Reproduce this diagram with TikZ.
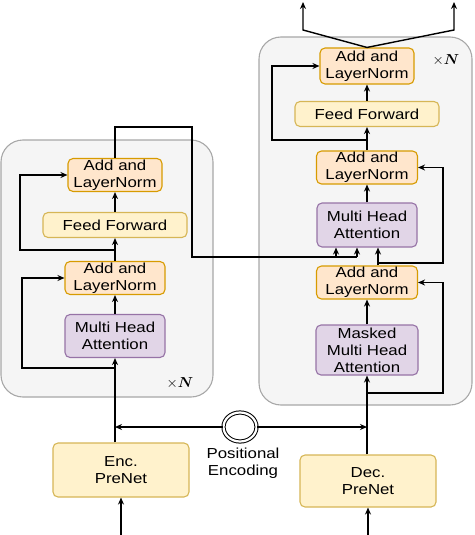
\documentclass[tikz,border=0pt]{standalone}
\usepackage{fontspec}
\usepackage{bm}
\setmainfont{Liberation Sans}[FakeStretch=1.16]
\usetikzlibrary{arrows.meta,shapes.geometric}
\definecolor{orF}{HTML}{FFE6CC}
\definecolor{orD}{HTML}{D79B00}
\definecolor{yeF}{HTML}{FFF2CC}
\definecolor{yeD}{HTML}{D6B656}
\definecolor{puF}{HTML}{E1D5E7}
\definecolor{puD}{HTML}{9673A6}
\definecolor{grF}{HTML}{F5F5F5}
\definecolor{grD}{HTML}{A8A8A8}
\tikzset{
  blk/.style={rounded corners=5pt, line width=1.1pt, align=center, inner sep=0pt,
    font=\fontsize{14.5}{17}\selectfont},
  anbox/.style={blk, fill=orF, draw=orD, minimum width=#1, minimum height=33pt},
  ffbox/.style={blk, fill=yeF, draw=yeD, minimum width=144pt, minimum height=25pt},
  mhbox/.style={blk, fill=puF, draw=puD, minimum width=100pt, minimum height=#1},
  prebox/.style={blk, fill=yeF, draw=yeD, minimum width=136pt, minimum height=#1},
  container/.style={rounded corners=22pt, fill=grF, draw=grD, line width=1.1pt},
  arr/.style={line width=1.4pt, -{Stealth[length=7pt,width=6pt]}},
  ln/.style={line width=1.4pt},
  xn/.style={font=\fontsize{14}{14}\selectfont}
}
\begin{document}
\begin{tikzpicture}[x=1pt,y=-1pt]
\useasboundingbox (0,0) rectangle (474,535);
% containers
\draw[container] (1,140) rectangle (213,397);
\draw[container] (259,37) rectangle (472,405);
% encoder nodes
\node[anbox=94pt] (eAN2) at (115,175) {Add and\\LayerNorm};
\node[ffbox] (eFF) at (115,225) {Feed Forward};
\node[anbox=100pt] (eAN1) at (115,278) {Add and\\LayerNorm};
\node[mhbox=43pt] (eMHA) at (115,336) {Multi Head\\Attention};
\node[xn] (eN) at (180,383) {$\times\bm{N}$};
\node[prebox=54pt] (ePre) at (121,470) {Enc.\\PreNet};
% decoder nodes
\node[anbox=94pt, minimum height=36pt] (dAN3) at (367,66) {Add and\\LayerNorm};
\node[ffbox] (dFF) at (367,114) {Feed Forward};
\node[anbox=101pt] (dAN2) at (367,167.5) {Add and\\LayerNorm};
\node[mhbox=44pt] (dMHA) at (367,225) {Multi Head\\Attention};
\node[anbox=101pt] (dAN1) at (367,282.5) {Add and\\LayerNorm};
\node[mhbox=50pt, minimum width=102pt] (dMMHA) at (367,350) {Masked\\Multi Head\\Attention};
\node[xn] (dN) at (446,60) {$\times\bm{N}$};
\node[prebox=52pt] (dPre) at (368,481) {Dec.\\PreNet};
% positional encoding
\node[ellipse, draw, double, double distance=2.2pt, line width=1pt, minimum width=33pt, minimum height=29pt] (pe) at (240,427) {};
\node[align=center, font=\fontsize{14.5}{17}\selectfont] (pet) at (243,463) {Positional\\Encoding};
% named points
\coordinate (eIn) at (121,535);
\coordinate (dIn) at (368,535);
\coordinate (er1) at (115,368);
\coordinate (er2) at (115,250);
\coordinate (dr1) at (367,393);
\coordinate (dr2) at (378,263);
\coordinate (dr3) at (367,140);
\coordinate (eo1) at (115,127);
\coordinate (eo2) at (192,127);
\coordinate (eo3) at (192,257);
\coordinate (eo4) at (357,257);
\coordinate (oL) at (303,30);
\coordinate (oR) at (454,30);
\coordinate (oLt) at (303,2);
\coordinate (oRt) at (454,2);
% encoder connectors
\draw[arr] (eIn) -- (ePre.south);
\draw[arr] (ePre.north -| eMHA.south) -- (eMHA.south);
\draw[arr] (eMHA) -- (eAN1);
\draw[arr] (eAN1) -- (eFF);
\draw[arr] (eFF) -- (eAN2);
\draw[arr] (er1) -- (22,368) |- (eAN1.west);
\draw[arr] (er2) -- (20,250) |- (eAN2.west);
% encoder output to decoder
\draw[ln] (eAN2.north) -- (eo1) -- (eo2) -- (eo3) -- (eo4);
\draw[arr] (336,257) -- (336,0 |- dMHA.south);
\draw[arr] (eo4) -- (357,0 |- dMHA.south);
% decoder connectors
\draw[arr] (dIn) -- (dPre.south);
\draw[arr] (dPre.north -| dMMHA.south) -- (dMMHA.south);
\draw[arr] (dr1) -- (443,393) |- (dAN1.east);
\draw[arr] (dMMHA) -- (dAN1);
\draw[arr] (dAN1.north -| dr2) -- (dMHA.south -| dr2);
\draw[arr] (dr2) -- (443,263) |- (dAN2.east);
\draw[arr] (dMHA) -- (dAN2);
\draw[arr] (dAN2) -- (dFF);
\draw[arr] (dFF) -- (dAN3);
\draw[arr] (dr3) -- (272,140) |- (dAN3.west);
\draw[arr] (dAN3.north) -- (oL) -- (oLt);
\draw[arr] (dAN3.north) -- (oR) -- (oRt);
% positional encoding arrows
\draw[arr] (pe.west) -- (eMHA.south |- pe.west);
\draw[arr] (pe.east) -- (dMMHA.south |- pe.east);
\end{tikzpicture}
\end{document}
